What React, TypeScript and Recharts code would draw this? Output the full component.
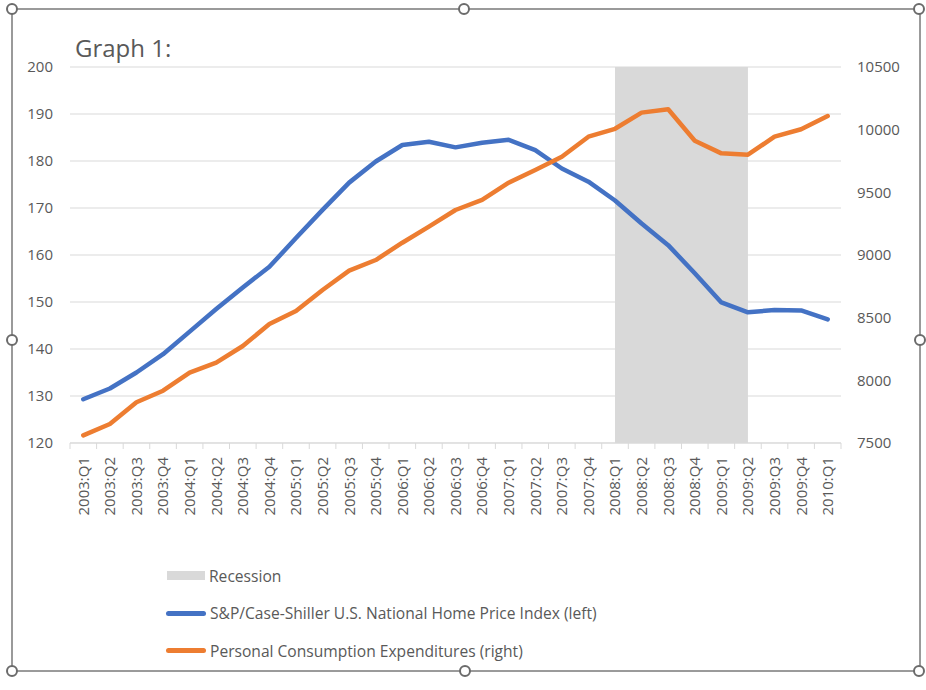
import { ComposedChart, Line, Area, XAxis, YAxis, CartesianGrid, Legend } from 'recharts'

const QUARTERS = [
  '2003:Q1', '2003:Q2', '2003:Q3', '2003:Q4',
  '2004:Q1', '2004:Q2', '2004:Q3', '2004:Q4',
  '2005:Q1', '2005:Q2', '2005:Q3', '2005:Q4',
  '2006:Q1', '2006:Q2', '2006:Q3', '2006:Q4',
  '2007:Q1', '2007:Q2', '2007:Q3', '2007:Q4',
  '2008:Q1', '2008:Q2', '2008:Q3', '2008:Q4',
  '2009:Q1', '2009:Q2', '2009:Q3', '2009:Q4',
  '2010:Q1',
]

// S&P/Case-Shiller index, left axis
const HOME_PRICE = [
  129.3, 131.6, 135.0, 138.9,
  143.7, 148.5, 153.1, 157.5,
  163.6, 169.6, 175.4, 179.9,
  183.4, 184.1, 182.9, 183.9,
  184.5, 182.3, 178.4, 175.6,
  171.6, 166.7, 162.1, 156.1,
  149.9, 147.8, 148.3, 148.2,
  146.3,
]

// personal consumption expenditures, right axis
const PCE = [
  7561, 7652, 7825, 7917,
  8061, 8141, 8274, 8449,
  8553, 8721, 8875, 8960,
  9098, 9226, 9359, 9439,
  9577, 9678, 9784, 9944,
  10007, 10136, 10163, 9912,
  9811, 9800, 9944, 10003,
  10109,
]

// shaded band, 2008:Q1 - 2009:Q2
const RECESSION = [
  null, null, null, null,
  null, null, null, null,
  null, null, null, null,
  null, null, null, null,
  null, null, null, null,
  200, 200, 200, 200,
  200, 200, null, null,
  null,
]

const LEFT_TICKS = [120, 130, 140, 150, 160, 170, 180, 190, 200]
const RIGHT_TICKS = [7500, 8000, 8500, 9000, 9500, 10000, 10500]

const SERIES = [
  'Recession',
  'S&P/Case-Shiller U.S. National Home Price Index (left)',
  'Personal Consumption Expenditures (right)',
]

const data = QUARTERS.map((q, i) => ({
  quarter: q,
  recession: RECESSION[i],
  hpi: HOME_PRICE[i],
  pce: PCE[i],
}))

const TEXT = '#595959'
const GRID = '#d9d9d9'

function QuarterTick(props: any) {
  const { x, y, payload, index, visibleTicksCount } = props
  const half = payload?.offset ?? 13.3
  return (
    <g transform={`translate(${x},${y})`}>
      <line x1={-half} y1={-14} x2={-half} y2={-8} stroke={GRID} />
      {index === visibleTicksCount - 1 && (
        <line x1={half} y1={-14} x2={half} y2={-8} stroke={GRID} />
      )}
      <text textAnchor="end" transform="rotate(-90)" dy="0.36em" fill={TEXT} fontSize={15}>
        {payload.value}
      </text>
    </g>
  )
}

function LegendRows({ payload }: any) {
  const items = [...(payload ?? [])].sort(
    (a: any, b: any) => SERIES.indexOf(a.value) - SERIES.indexOf(b.value)
  )
  return (
    <div>
      {items.map((it: any) => (
        <div key={it.value} style={{ display: 'flex', alignItems: 'center', height: 37.5 }}>
          {it.type === 'rect' ? (
            <span style={{ display: 'inline-block', width: 38, height: 9, background: it.color, marginLeft: 1 }} />
          ) : (
            <span style={{ display: 'inline-block', width: 40, height: 5, borderRadius: 3, background: it.color }} />
          )}
          <span style={{ marginLeft: 4, color: TEXT, fontSize: 15.6, whiteSpace: 'nowrap' }}>{it.value}</span>
        </div>
      ))}
    </div>
  )
}

const HANDLES = [
  [12, 9], [464, 9], [919, 9],
  [12, 340], [920, 340],
  [12, 671], [465, 671], [919, 671],
]

export default function App() {
  return (
    <div style={{ position: 'absolute', left: 0, top: 0, width: 926, height: 690, background: '#fff', fontFamily: '"Open Sans", sans-serif' }}>
      <ComposedChart
        width={926}
        height={690}
        data={data}
        margin={{ top: 67, right: 0, bottom: 167, left: 0 }}
      >
        <CartesianGrid vertical={false} stroke={GRID} yAxisId="left" />
        <XAxis
          dataKey="quarter"
          scale="band"
          interval={0}
          height={80}
          tickSize={0}
          tickMargin={14}
          tickLine={false}
          axisLine={{ stroke: GRID }}
          tick={<QuarterTick />}
        />
        <YAxis
          yAxisId="left"
          orientation="left"
          width={70}
          domain={[120, 200]}
          ticks={LEFT_TICKS}
          allowDataOverflow
          axisLine={false}
          tickLine={false}
          tickSize={0}
          tickMargin={17}
          tick={{ fill: TEXT, fontSize: 15 }}
        />
        <YAxis
          yAxisId="right"
          orientation="right"
          width={85}
          domain={[7500, 10500]}
          ticks={RIGHT_TICKS}
          axisLine={false}
          tickLine={false}
          tickSize={0}
          tickMargin={16}
          tick={{ fill: TEXT, fontSize: 15, textAnchor: 'start' }}
        />
        <Area
          yAxisId="left"
          type="linear"
          dataKey="recession"
          name={SERIES[0]}
          stroke="none"
          fill={GRID}
          fillOpacity={1}
          legendType="rect"
          isAnimationActive={false}
        />
        <Line
          yAxisId="left"
          type="linear"
          dataKey="hpi"
          name={SERIES[1]}
          stroke="#4472c4"
          strokeWidth={4.5}
          strokeLinecap="round"
          strokeLinejoin="round"
          dot={false}
          activeDot={false}
          isAnimationActive={false}
        />
        <Line
          yAxisId="right"
          type="linear"
          dataKey="pce"
          name={SERIES[2]}
          stroke="#ed7d31"
          strokeWidth={4.5}
          strokeLinecap="round"
          strokeLinejoin="round"
          dot={false}
          activeDot={false}
          isAnimationActive={false}
        />
        <Legend
          layout="horizontal"
          verticalAlign="middle"
          align="center"
          content={<LegendRows />}
          wrapperStyle={{ left: 166, top: 557, width: 600, height: 'auto' }}
        />
      </ComposedChart>
      <svg width={926} height={690} style={{ position: 'absolute', left: 0, top: 0, pointerEvents: 'none' }}>
        <text x={75} y={57} fontSize={24} fill={TEXT}>Graph 1:</text>
        <rect x={12} y={9} width={908} height={662} fill="none" stroke="#7a7a7a" strokeWidth={1.5} />
        {HANDLES.map(([cx, cy]) => (
          <circle key={`${cx}-${cy}`} cx={cx} cy={cy} r={5} fill="#fff" stroke="#6b6b6b" strokeWidth={2} />
        ))}
      </svg>
    </div>
  )
}
